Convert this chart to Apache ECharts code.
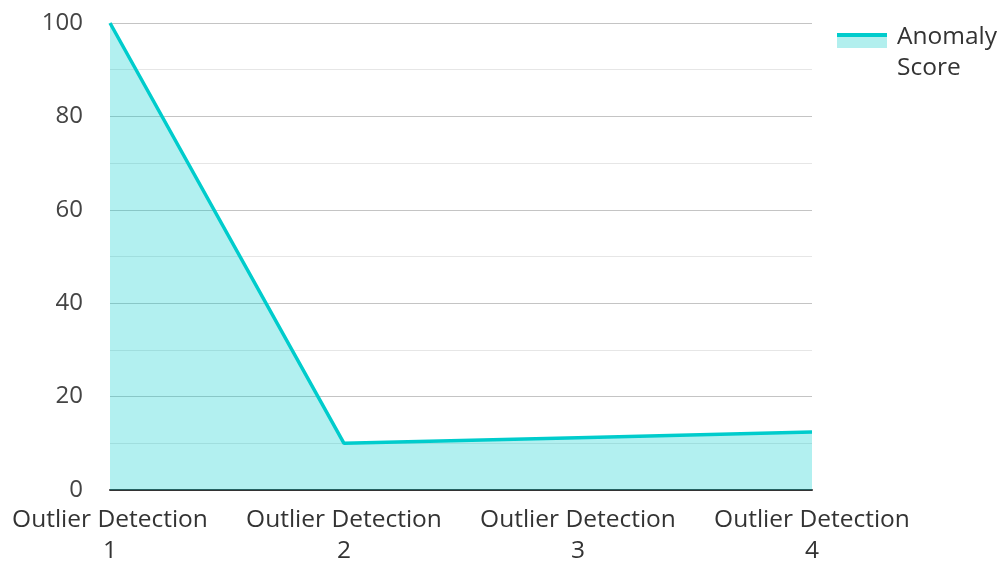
<!DOCTYPE html>
<html><head><meta charset="utf-8">
<script src="https://cdn.jsdelivr.net/npm/echarts@6/dist/echarts.min.js"></script>
<style>html,body{margin:0;padding:0;background:#fff}#c{width:1002px;height:562px}</style>
</head><body><div id="c"></div>
<script>
const categories = ["Outlier Detection 1", "Outlier Detection 2", "Outlier Detection 3", "Outlier Detection 4"];
const anomalyScore = [100, 10, 11.2, 12.4];
const seriesName = "Anomaly\nScore";
const yTicks = {min: 0, max: 100, interval: 20};

const chart = echarts.init(document.getElementById('c'));
chart.setOption({
  animation: false,
  textStyle: {fontFamily: 'Open Sans'},
  grid: {left: 110, right: 190, top: 23, bottom: 72, outerBoundsMode: 'none', containLabel: false},
  legend: {
    left: 837, top: 22, orient: 'vertical', padding: 0,
    icon: 'rect',
    itemWidth: 50, itemHeight: 62, itemGap: 10,
    itemStyle: {
      color: {type: 'linear', x: 0, y: 0, x2: 0, y2: 1, colorStops: [
        {offset: 0, color: 'rgba(255,255,255,0)'}, {offset: 0.173, color: 'rgba(255,255,255,0)'},
        {offset: 0.173, color: '#00cccc'}, {offset: 0.237, color: '#00cccc'},
        {offset: 0.237, color: '#b2efee'}, {offset: 0.415, color: '#b2efee'},
        {offset: 0.415, color: 'rgba(255,255,255,0)'}, {offset: 1, color: 'rgba(255,255,255,0)'}
      ]}
    },
    textStyle: {fontSize: 24.5, color: '#333', fontFamily: 'Open Sans', lineHeight: 31, padding: [0, 0, 0, 5]},
    data: [seriesName]
  },
  xAxis: {
    type: 'category', data: categories, boundaryGap: false,
    axisLine: {lineStyle: {color: '#333', width: 2}},
    axisTick: {show: false},
    axisLabel: {
      fontSize: 24.5, color: '#333', lineHeight: 31, margin: 15, interval: 0,
      formatter: v => v.replace(/ (\S+)$/, '\n$1')
    }
  },
  yAxis: {
    type: 'value', min: yTicks.min, max: yTicks.max, interval: yTicks.interval,
    axisLine: {show: false}, axisTick: {show: false},
    axisLabel: {fontSize: 24, color: '#444', margin: 27},
    splitLine: {lineStyle: {color: '#c4c4c4', width: 1}},
    minorTick: {show: false, splitNumber: 2},
    minorSplitLine: {show: true, lineStyle: {color: '#e6e6e6', width: 1}}
  },
  series: [{
    name: seriesName, type: 'line', data: anomalyScore,
    symbol: 'none', smooth: false,
    lineStyle: {color: '#00cccc', width: 3.5},
    itemStyle: {color: '#00cccc'},
    areaStyle: {color: 'rgba(0,204,204,0.3)', opacity: 1}
  }]
});
</script></body></html>
